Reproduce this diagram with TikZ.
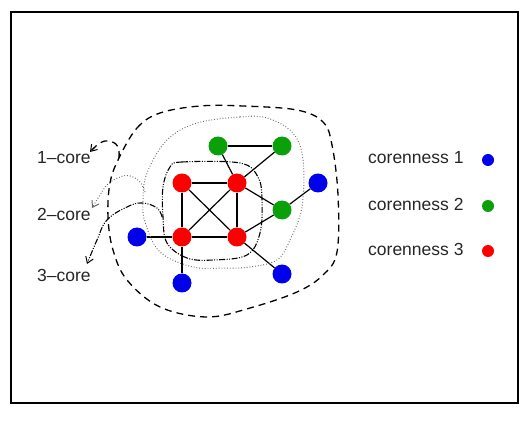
\documentclass[tikz,border=0pt]{standalone}
\usepackage{fontspec}
\setmainfont{Liberation Sans}
\usetikzlibrary{arrows.meta}
\definecolor{cred}{RGB}{250,0,0}
\definecolor{cgreen}{RGB}{10,160,10}
\definecolor{cblue}{RGB}{0,0,235}
\begin{document}
\begin{tikzpicture}[x=1pt,y=-1pt,
  vert/.style={circle,inner sep=0pt,minimum size=19pt},
  rv/.style={vert,fill=cred},
  gv/.style={vert,fill=cgreen},
  bv/.style={vert,fill=cblue},
  dotv/.style={circle,inner sep=0pt,minimum size=12pt},
  edge/.style={line width=1.2pt},
  lbl/.style={font=\fontsize{17.5}{20}\selectfont,anchor=base west,inner sep=0pt,text=black!85},
  coreone/.style={line width=1.3pt,dash pattern=on 7pt off 5pt},
  coretwo/.style={line width=1pt,dash pattern=on 0.8pt off 2pt,color=black!60},
  corethree/.style={line width=1.1pt,dash pattern=on 6pt off 1.5pt on 1pt off 1.5pt on 1pt off 1.5pt},
  tipped/.style={-{Straight Barb[length=6pt,width=8pt,line width=1pt]}}
]
\useasboundingbox (0,0) rectangle (525,422);
\draw[line width=2.2pt] (11,12) rectangle (518,403);

% vertices
\node[rv] (r1) at (182,183) {};
\node[rv] (r2) at (237,183) {};
\node[rv] (r3) at (182,237) {};
\node[rv] (r4) at (237,237) {};
\node[gv] (g1) at (218,146) {};
\node[gv] (g2) at (282,146) {};
\node[gv] (g3) at (282,210) {};
\node[bv] (b1) at (318,183) {};
\node[bv] (b2) at (137,237) {};
\node[bv] (b3) at (182,283) {};
\node[bv] (b4) at (282,274) {};

% edges
\draw[edge] (r1) -- (r2);
\draw[edge] (r1) -- (r3);
\draw[edge] (r1) -- (r4);
\draw[edge] (r2) -- (r3);
\draw[edge] (r2) -- (r4);
\draw[edge] (r3) -- (r4);
\draw[edge] (g1) -- (g2);
\draw[edge] (g1) -- (r2);
\draw[edge] (g2) -- (r2);
\draw[edge] (r2) -- (g3);
\draw[edge] (r4) -- (g3);
\draw[edge] (g3) -- (b1);
\draw[edge] (b2) -- (r3);
\draw[edge] (r3) -- (b3);
\draw[edge] (r4) -- (b4);

% 1-core contour
\draw[coreone] plot[smooth cycle,tension=0.6] coordinates {(119,158) (137,128) (160,113) (200,106) (243,106) (297,110) (323,122) (332,145) (338,195) (337,252) (323,275) (297,292) (250,308) (207,317) (160,307) (127,280) (113,250) (108,217) (110,183)};
\draw[coreone,tipped] plot[smooth,tension=0.7] coordinates {(119,158) (118,147) (110,141) (100,143) (90,152)};

% 2-core contour
\draw[coretwo] plot[smooth cycle,tension=0.6] coordinates {(197,123) (240,117) (267,118) (293,133) (303,160) (302,207) (290,240) (277,260) (250,267) (227,268) (193,267) (160,252) (145,222) (143,200) (147,173) (167,140)};
\draw[coretwo,tipped] plot[smooth,tension=0.7] coordinates {(145,192) (140,182) (130,176) (120,177) (108,184) (100,195) (92,208)};

% 3-core contour
\draw[corethree] plot[smooth cycle,tension=0.6] coordinates {(170,167) (182,162) (240,163) (258,177) (262,200) (260,233) (247,255) (213,260) (187,258) (167,243) (163,217) (163,187)};
\draw[corethree,tipped] plot[smooth,tension=0.7] coordinates {(162,217) (157,208) (142,203) (127,207) (107,220) (97,240) (87,264)};

% core labels
\node[lbl] (l1) at (37,164) {1--core};
\node[lbl] (l2) at (37,221) {2--core};
\node[lbl] (l3) at (37,281) {3--core};

% legend
\node[lbl] (t1) at (368,164) {corenness 1};
\node[lbl] (t2) at (368,211) {corenness 2};
\node[lbl] (t3) at (368,256) {corenness 3};
\node[dotv,fill=cblue] (d1) at (488,160) {};
\node[dotv,fill=cgreen] (d2) at (488,206) {};
\node[dotv,fill=cred] (d3) at (488,251) {};
\end{tikzpicture}
\end{document}
